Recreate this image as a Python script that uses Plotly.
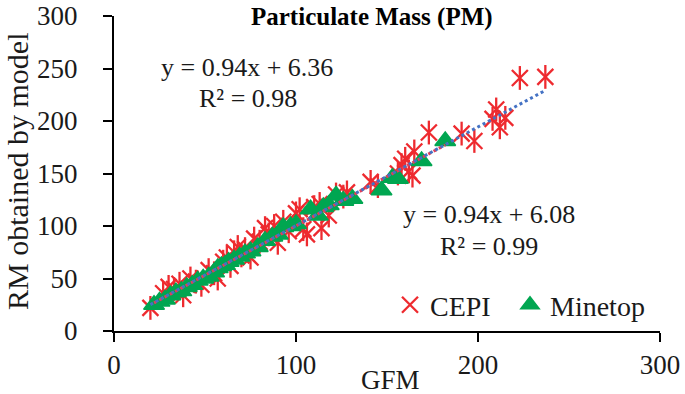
import numpy as np
import plotly.graph_objects as go

# ---- data ----
cepi_x = [20, 27, 30, 33, 36, 38, 42, 45, 48, 52, 55, 57, 60, 62, 64, 66, 68, 70, 72, 75,
          77, 80, 83, 85, 88, 90, 93, 96, 100, 102, 104, 106, 110, 113, 114, 118, 122, 126,
          128, 141, 145, 156, 158, 160, 162, 164, 165, 173, 191, 198, 208, 210, 212, 215,
          223, 237]
cepi_y = [22, 36, 42, 40, 45, 34, 50, 47, 44, 58, 55, 50, 66, 70, 62, 75, 80, 72, 78, 70,
          88, 85, 98, 92, 100, 84, 104, 95, 112, 116, 97, 92, 118, 121, 98, 110, 130, 128,
          132, 142, 138, 150, 158, 164, 152, 148, 171, 189, 188, 181, 202, 211, 194, 203,
          241, 242]

minetop_x = [22, 25, 28, 31, 34, 37, 40, 43, 46, 49, 52, 55, 57, 59, 61, 63, 66, 69, 72, 75,
             79, 83, 87, 90, 93, 97, 100, 108, 112, 115, 118, 122, 126, 131, 147, 153, 156,
             169, 182]
minetop_y = [25, 28, 30, 34, 37, 38, 42, 44, 48, 50, 52, 56, 60, 62, 63, 66, 68, 71, 74, 76,
             80, 86, 90, 92, 99, 100, 102, 116, 110, 118, 120, 129, 124, 126, 134, 146, 145,
             162, 181]

fit_slope = [0.94, 0.94]          # CEPI, Minetop
fit_intercept = [6.36, 6.08]
fit_r2 = [0.98, 0.99]

x_ticks = [0, 100, 200, 300]
y_ticks = [0, 50, 100, 150, 200, 250, 300]

title_text = "<b>Particulate Mass (PM)</b>"
x_title = "GFM"
y_title = "RM obtained by model"

RED = "#EE2A2F"
GREEN = "#00A651"
BLUE = "#4472C4"
PINK = "#E0405A"
FONT = "Liberation Serif"
TXT = "#1a1a1a"

TOP, BOTTOM, LEFT, RIGHT = 16, 63, 114, 25
H = 394 - TOP - BOTTOM
W = 685 - LEFT - RIGHT


def px(xp, yp):
    """convert pixel position in the figure to paper coordinates"""
    return (xp - LEFT) / W, (394 - BOTTOM - yp) / H


fig = go.Figure()

# CEPI star marker = X + vertical bar (Excel style)
fig.add_trace(go.Scatter(x=cepi_x, y=cepi_y, mode="markers", name="CEPI",
                         legend="legend", legendgroup="cepi",
                         marker=dict(symbol="x-thin-open", size=16,
                                     line=dict(color=RED, width=2.3), color=RED)))
fig.add_trace(go.Scatter(x=cepi_x, y=cepi_y, mode="markers", name="CEPI",
                         legendgroup="cepi", showlegend=False,
                         marker=dict(symbol="line-ns-open", size=17,
                                     line=dict(color=RED, width=2.3), color=RED)))
fig.add_trace(go.Scatter(x=minetop_x, y=minetop_y, mode="markers", name="Minetop",
                         legend="legend2",
                         marker=dict(symbol="triangle-up", size=18, color=GREEN,
                                     line=dict(color=GREEN, width=1.5))))

# trendlines
def trend(xs, k):
    xs = np.array([min(xs), max(xs)], dtype=float)
    return xs, fit_slope[k] * xs + fit_intercept[k]

tx, ty = trend(minetop_x, 1)
fig.add_trace(go.Scatter(x=tx, y=ty, mode="lines", showlegend=False,
                         line=dict(color=PINK, width=3, dash="dot")))
tx, ty = trend(cepi_x, 0)
fig.add_trace(go.Scatter(x=tx, y=ty, mode="lines", showlegend=False,
                         line=dict(color=BLUE, width=3, dash="dot")))

axis_common = dict(showgrid=False, zeroline=False, showline=True, linecolor="black",
                   linewidth=2, ticks="outside", ticklen=9, tickwidth=2, tickcolor="black",
                   tickfont=dict(family=FONT, size=27, color=TXT),
                   ticklabeloverflow="allow", automargin=False)

fig.update_xaxes(range=[0, 300], tickvals=x_ticks, ticklabelstandoff=0, **axis_common)
fig.update_yaxes(range=[0, 300], tickvals=y_ticks, ticklabelstandoff=20, **axis_common)

txt = dict(family=FONT, size=26, color=TXT)
ann_specs = [
    (title_text, (372, 17), dict(family=FONT, size=25, color="black"), 0),
    (x_title, (390, 380), dict(family=FONT, size=27, color=TXT), 0),
    (y_title, (17, 172), dict(family=FONT, size=30, color=TXT), -90),
    (f"y = {fit_slope[0]:.2f}x + {fit_intercept[0]:.2f}", (247, 67), txt, 0),
    (f"R² = {fit_r2[0]:.2f}", (248, 99), txt, 0),
    (f"y = {fit_slope[1]:.2f}x + {fit_intercept[1]:.2f}", (489, 214), txt, 0),
    (f"R² = {fit_r2[1]:.2f}", (489, 246), txt, 0),
]
ann = []
for text, (xp, yp), font, angle in ann_specs:
    ax_, ay_ = px(xp, yp)
    ann.append(dict(text=text, x=ax_, y=ay_, font=font, textangle=angle,
                    xref="paper", yref="paper", showarrow=False,
                    xanchor="center", yanchor="middle"))

leg_y = px(0, 305)[1]
leg_common = dict(orientation="h", y=leg_y, xanchor="left", yanchor="middle",
                  font=dict(family=FONT, size=28, color=TXT),
                  bgcolor="rgba(0,0,0,0)", itemwidth=30)

fig.update_layout(
    width=685, height=394,
    margin=dict(l=LEFT, r=RIGHT, t=TOP, b=BOTTOM, autoexpand=False),
    paper_bgcolor="white", plot_bgcolor="white",
    annotations=ann,
    legend=dict(x=px(390, 0)[0], **leg_common),
    legend2=dict(x=px(510, 0)[0], **leg_common),
)

fig.write_html("out.html", config={"displayModeBar": False},
               post_script="document.body.style.margin='0';")
